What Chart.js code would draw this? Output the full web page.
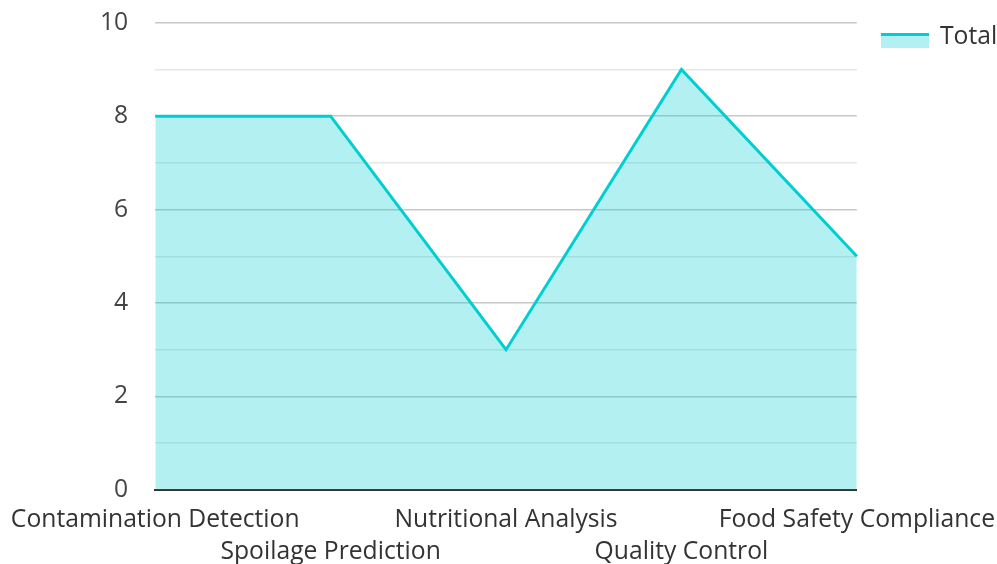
<!DOCTYPE html>
<html>
<head>
<meta charset="utf-8">
<style>
  html, body { margin: 0; padding: 0; background: #ffffff; }
  #wrap { width: 997px; height: 564px; }
</style>
<script src="https://cdn.jsdelivr.net/npm/chart.js@4/dist/chart.umd.min.js"></script>
</head>
<body>
<div id="wrap"><canvas id="c" width="997" height="564"></canvas></div>
<script>
const categories = [
  'Contamination Detection',
  'Spoilage Prediction',
  'Nutritional Analysis',
  'Quality Control',
  'Food Safety Compliance'
];
const totalValues = [8, 8, 3, 9, 5];
const seriesName = 'Total';

const LINE = '#00CED1';
const FILL = 'rgba(0, 206, 209, 0.3)';
const FONT = "'Open Sans', 'Noto Sans', sans-serif";
const SIZE = 24.7;
const CLEAR = 'rgba(0,0,0,0)';

// Alternate labels between two rows so the long names don't collide
const staggered = categories.map((c, i) => (i % 2 === 0 ? [c, ''] : ['', c]));

// Series key in the top-right corner: tinted swatch with a thick top stroke
const seriesKey = {
  id: 'seriesKey',
  afterDraw(chart) {
    const ctx = chart.ctx;
    const ds = chart.data.datasets[0];
    const x = 881, y = 33, w = 48, h = 15;
    ctx.save();
    ctx.fillStyle = ds.backgroundColor;
    ctx.fillRect(x, y, w, h);
    ctx.strokeStyle = ds.borderColor;
    ctx.lineWidth = 3;
    ctx.beginPath();
    ctx.moveTo(x, y + 1.5);
    ctx.lineTo(x + w, y + 1.5);
    ctx.stroke();
    ctx.fillStyle = '#333333';
    ctx.font = SIZE + 'px ' + FONT;
    ctx.textBaseline = 'alphabetic';
    ctx.textAlign = 'left';
    ctx.fillText(ds.label, x + w + 11, 44);
    ctx.restore();
  }
};

new Chart(document.getElementById('c'), {
  type: 'line',
  data: {
    labels: staggered,
    datasets: [{
      label: seriesName,
      data: totalValues,
      borderColor: LINE,
      backgroundColor: FILL,
      borderWidth: 3,
      fill: 'origin',
      tension: 0,
      pointRadius: 0,
      pointHoverRadius: 0
    }]
  },
  options: {
    responsive: false,
    animation: false,
    layout: { padding: { left: 92, right: 0, top: 0, bottom: -6 } },
    plugins: {
      tooltip: { enabled: false },
      legend: { display: false }
    },
    scales: {
      x: {
        offset: false,
        grid: {
          display: true,
          drawOnChartArea: false,
          drawTicks: true,
          tickLength: 12,
          tickColor: CLEAR,
          color: CLEAR
        },
        border: { display: true, color: '#333333', width: 2 },
        ticks: {
          autoSkip: false,
          maxRotation: 0,
          minRotation: 0,
          padding: 2,
          color: '#333333',
          font: { family: FONT, size: SIZE, lineHeight: 1.3 }
        }
      },
      y: {
        min: 0,
        max: 10,
        border: { display: false },
        grid: {
          drawTicks: true,
          tickLength: 19,
          tickColor: CLEAR,
          lineWidth: 1.5,
          color: ctx => (ctx.tick && ctx.tick.value % 2 === 0 ? '#c8c8c8' : '#e6e6e6')
        },
        ticks: {
          stepSize: 1,
          padding: 8,
          color: '#444444',
          font: { family: FONT, size: SIZE },
          callback: v => (v % 2 === 0 ? String(v) : '')
        }
      }
    }
  },
  plugins: [seriesKey]
});
</script>
</body>
</html>
